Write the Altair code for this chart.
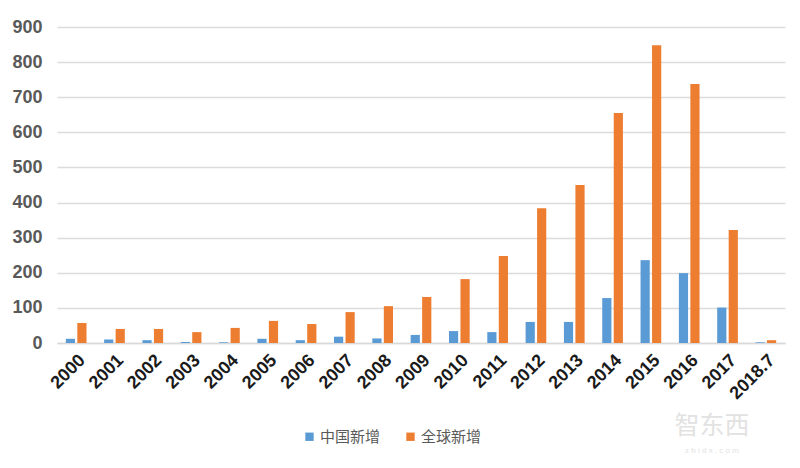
import altair as alt
import pandas as pd

years = ["2000", "2001", "2002", "2003", "2004", "2005", "2006", "2007", "2008", "2009",
         "2010", "2011", "2012", "2013", "2014", "2015", "2016", "2017", "2018.7"]
china_new = [12, 10, 8, 3, 2, 12, 8, 18, 13, 23, 34, 31, 60, 60, 128, 236, 199, 101, 2]
global_new = [57, 40, 40, 31, 43, 63, 54, 88, 105, 131, 182, 248, 384, 450, 655, 848, 738, 322, 8]
series_names = ["中国新增", "全球新增"]
colors = ["#5B9BD5", "#ED7D31"]

rows = []
for y, c, g in zip(years, china_new, global_new):
    rows.append({"year": y, "series": series_names[0], "value": c})
    rows.append({"year": y, "series": series_names[1], "value": g})
df = pd.DataFrame(rows)

font = "Liberation Sans"

bars = alt.Chart(df).mark_bar().encode(
    x=alt.X("year:N", sort=years, title=None,
            scale=alt.Scale(paddingInner=0.46, paddingOuter=0.23),
            axis=alt.Axis(labelAngle=-45, labelAlign="right", labelBaseline="top",
                          labelFont=font, labelFontSize=18, labelFontWeight="bold",
                          labelColor="#1a1a1a", labelPadding=8, ticks=False,
                          domain=True, domainColor="#d9d9d9", domainWidth=1.5)),
    xOffset=alt.XOffset("series:N", sort=series_names,
                        scale=alt.Scale(paddingInner=0.2)),
    y=alt.Y("value:Q", title=None,
            scale=alt.Scale(domain=[0, 900]),
            axis=alt.Axis(values=list(range(0, 901, 100)), labelFont=font,
                          labelFontSize=18, labelFontWeight="bold", labelColor="#595959",
                          labelPadding=15, ticks=False, domain=False,
                          gridColor="#dcdcdc", gridWidth=1.5)),
    color=alt.Color("series:N", sort=series_names,
                    scale=alt.Scale(domain=series_names, range=colors),
                    legend=alt.Legend(title=None, orient="none", direction="horizontal",
                                      legendX=245, legendY=402,
                                      symbolType="square", symbolSize=70,
                                      symbolStrokeWidth=0,
                                      labelFont="Noto Sans CJK SC", labelFontSize=15,
                                      labelColor="#595959", columnPadding=22,
                                      labelOffset=3)),
)

wm = alt.Chart(pd.DataFrame({"t": ["智东西"]})).mark_text(
    font="Noto Sans CJK SC", fontSize=25, color="#e2e2e2", align="center", baseline="middle"
).encode(x=alt.value(655), y=alt.value(399), text="t:N")

wm2 = alt.Chart(pd.DataFrame({"t": ["z h i d x . c o m"]})).mark_text(
    font=font, fontSize=8, color="#e2e2e2", align="center", baseline="middle"
).encode(x=alt.value(655), y=alt.value(424), text="t:N")

chart = alt.layer(bars, wm, wm2).properties(
    width=728, height=316,
    autosize=alt.AutoSizeParams(type="none"),
    padding={"left": 57, "top": 27, "right": 15, "bottom": 125},
    background="white",
).configure_view(stroke=None)

chart.save("out.html", embed_options={"renderer": "svg", "actions": False})
